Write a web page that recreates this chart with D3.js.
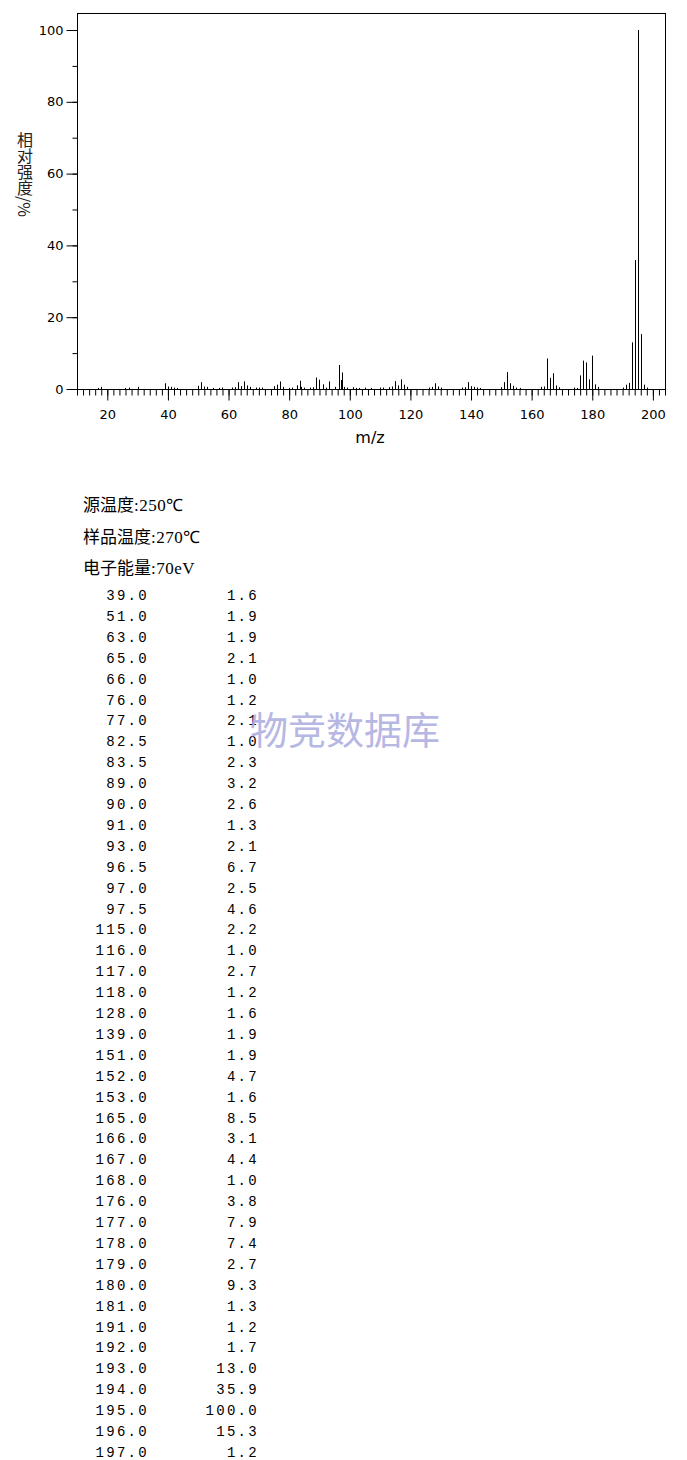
<!DOCTYPE html>
<html><head><meta charset="utf-8">
<script src="https://cdn.jsdelivr.net/npm/d3@7"></script>
<style>
body{margin:0;background:#fff;}
svg{display:block;}
</style></head>
<body>
<svg id="chart" width="687" height="1460"></svg>
<script>
// Table peaks (m/z, relative intensity)
const tableMz = [39.0,51.0,63.0,65.0,66.0,76.0,77.0,82.5,83.5,89.0,90.0,91.0,93.0,96.5,97.0,97.5,115.0,116.0,117.0,118.0,128.0,139.0,151.0,152.0,153.0,165.0,166.0,167.0,168.0,176.0,177.0,178.0,179.0,180.0,181.0,191.0,192.0,193.0,194.0,195.0,196.0,197.0];
const tableInt = [1.6,1.9,1.9,2.1,1.0,1.2,2.1,1.0,2.3,3.2,2.6,1.3,2.1,6.7,2.5,4.6,2.2,1.0,2.7,1.2,1.6,1.9,1.9,4.7,1.6,8.5,3.1,4.4,1.0,3.8,7.9,7.4,2.7,9.3,1.3,1.2,1.7,13.0,35.9,100.0,15.3,1.2];
// Minor peaks estimated from the plot (below 1 %)
const minorMz = [17,18,26,27,30,40,41,42,43,50,52,53,55,57,58,61,62,64,67,69,70,71,75,78,80,81,84,85,87,88,92,95,98,99,101,102,103,105,107,110,111,113,114,119,126,127,129,130,137,138,140,141,142,143,150,154,155,156,163,164,169,174,175,182,190,198];
const minorInt = [0.3,0.6,0.3,0.4,0.6,0.7,0.6,0.4,0.3,0.9,0.7,0.6,0.3,0.3,0.4,0.4,0.5,0.8,0.6,0.4,0.4,0.4,0.8,0.6,0.3,0.4,0.6,0.4,0.4,0.5,0.4,0.6,0.6,0.4,0.5,0.3,0.3,0.4,0.3,0.4,0.4,0.5,0.7,0.6,0.4,0.6,0.7,0.4,0.4,0.5,0.8,0.6,0.4,0.3,0.5,0.9,0.4,0.3,0.6,0.7,0.5,0.4,0.3,0.6,0.4,0.4];
const xTicks = [20,40,60,80,100,120,140,160,180,200];
const yTicks = [0,20,40,60,80,100];
const headerLabels = ["源温度","样品温度","电子能量"];
const headerValues = [":250℃",":270℃",":70eV"];

const svg = d3.select("#chart");
const L=77, R=665, T=13, B=389;
const x = d3.scaleLinear().domain([10,204]).range([L,R]);
const y = d3.scaleLinear().domain([0,100]).range([B,30]);

// frame
svg.append("rect").attr("x",L+0.5).attr("y",T+0.5).attr("width",R-L).attr("height",B-T)
  .attr("fill","none").attr("stroke","#000").attr("stroke-width",1);

// x axis: minor ticks every 2, major every 20
const xg = svg.append("g").attr("transform",`translate(0,${B+0.5})`);
xg.call(d3.axisBottom(x).tickValues(d3.range(10,205,2)).tickSize(6).tickFormat(""));
xg.select(".domain").remove();
const xg2 = svg.append("g").attr("transform",`translate(0,${B+0.5})`);
xg2.call(d3.axisBottom(x).tickValues(xTicks).tickSize(11).tickPadding(9));
xg2.select(".domain").remove();
xg2.selectAll("text").attr("font-family","'DejaVu Sans',Verdana,sans-serif").attr("font-size",13).attr("fill","#000");

// y axis
const yg = svg.append("g").attr("transform",`translate(${L+0.5},0)`);
yg.call(d3.axisLeft(y).tickValues(d3.range(0,101,10)).tickSize(5).tickFormat(""));
yg.select(".domain").remove();
const yg2 = svg.append("g").attr("transform",`translate(${L+0.5},0)`);
yg2.call(d3.axisLeft(y).tickValues(yTicks).tickSize(11).tickPadding(3));
yg2.select(".domain").remove();
yg2.selectAll("text").attr("font-family","'DejaVu Sans',Verdana,sans-serif").attr("font-size",13).attr("fill","#000");
svg.selectAll(".tick line").attr("stroke","#000");

// peaks
const peaks = tableMz.map((m,i)=>({m,v:tableInt[i]})).concat(minorMz.map((m,i)=>({m,v:minorInt[i]})));
svg.append("g").selectAll("line").data(peaks).join("line")
  .attr("x1",d=>Math.round(x(d.m))+0.5).attr("x2",d=>Math.round(x(d.m))+0.5)
  .attr("y1",B).attr("y2",d=>y(d.v))
  .attr("stroke","#000").attr("stroke-width",1);

// axis titles
svg.append("text").attr("x",370).attr("y",443).attr("text-anchor","middle")
  .attr("font-family","'DejaVu Sans',Verdana,sans-serif").attr("font-size",16).text("m/z");
svg.append("text").attr("x",25).attr("y",132)
  .style("writing-mode","vertical-rl").attr("font-family","'Noto Sans CJK SC',sans-serif")
  .attr("font-size",16).attr("fill","#222").text("相对强度/%");

// header lines
headerLabels.forEach((t,i)=>{
  const tx = svg.append("text").attr("x",83).attr("y",511+i*31.5).attr("fill","#000");
  tx.append("tspan").attr("font-family","'Noto Sans CJK SC',sans-serif").attr("font-size",17).text(t);
  tx.append("tspan").attr("font-family","'Liberation Serif',serif").attr("font-size",17).attr("letter-spacing","0.5px").text(headerValues[i]);
});

// table
const rows = svg.append("g").attr("font-family","'Liberation Mono','DejaVu Sans Mono',monospace")
  .attr("font-size",14).attr("fill","#000");
tableMz.forEach((m,i)=>{
  const yy = 600 + i*20.9;
  rows.append("text").attr("x",149).attr("y",yy).attr("text-anchor","end").attr("letter-spacing","2.3px").text(m.toFixed(1));
  rows.append("text").attr("x",259).attr("y",yy).attr("text-anchor","end").attr("letter-spacing","2.3px").text(tableInt[i].toFixed(1));
});

// watermark
svg.append("text").attr("x",345).attr("y",744).attr("text-anchor","middle")
  .attr("font-family","'Noto Sans CJK SC',sans-serif").attr("font-size",38)
  .attr("fill","#b0b0e2").attr("opacity",0.9).text("物竞数据库");
</script>
</body></html>
